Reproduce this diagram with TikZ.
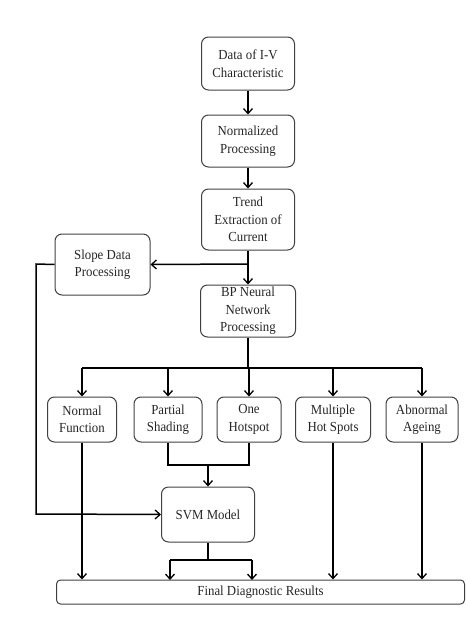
\documentclass[tikz,border=0pt]{standalone}
\usepackage{fontspec}
\setmainfont[FakeStretch=0.93]{Liberation Serif}
\usetikzlibrary{positioning,arrows.meta}
\begin{document}
\begin{tikzpicture}[x=1pt,y=-1pt,
    every path/.style={line width=1.5pt},
    stagebox/.style={draw=black!75,line width=1pt,rounded corners=7pt,align=center,
        inner sep=1pt,text=black!85,font=\fontsize{13.8}{17.5}\selectfont},
    flow/.style={-{Straight Barb[length=5pt,width=9pt,line width=1.3pt]},line width=1.5pt}]
    \useasboundingbox (0,0) rectangle (466,638);
    % main column
    \node[stagebox,minimum width=93pt,minimum height=53pt] (data) at (248,63.5) {Data of I-V\\Characteristic};
    \node[stagebox,minimum width=93pt,minimum height=52pt] (norm) at (248,141) {Normalized\\Processing};
    \node[stagebox,minimum width=93pt,minimum height=61pt] (trend) at (248,219.5) {Trend\\Extraction of\\Current};
    \node[stagebox,minimum width=95pt,minimum height=61pt] (slope) at (102.5,264.5) {Slope Data\\Processing};
    \node[stagebox,minimum width=95pt,minimum height=52pt] (bp) at (248,311) {BP Neural\\Network\\Processing};
    % fault classes
    \node[stagebox,minimum width=69pt,minimum height=45pt] (normal) at (82,419.5) {Normal\\Function};
    \node[stagebox,minimum width=68pt,minimum height=45pt] (partial) at (168,419.5) {Partial\\Shading};
    \node[stagebox,minimum width=64pt,minimum height=45pt] (hotspot) at (249,419.5) {One\\Hotspot};
    \node[stagebox,minimum width=75pt,minimum height=45pt] (multi) at (333,419.5) {Multiple\\Hot Spots};
    \node[stagebox,minimum width=72pt,minimum height=45pt] (ageing) at (422,419.5) {Abnormal\\Ageing};
    \node[stagebox,minimum width=93pt,minimum height=55pt] (svm) at (208,514.5) {SVM Model};
    \node[stagebox,minimum width=408pt,minimum height=24pt,rounded corners=4pt] (final) at (260.5,592) {Final Diagnostic Results};
    % connectors
    \coordinate (split) at (248,264);
    \coordinate (bar) at (248,368);
    \coordinate (join) at (208,465);
    \coordinate (fork) at (208,560);
    \draw[flow] (data) -- (norm);
    \draw[flow] (norm) -- (trend);
    \draw (trend.south) -- (split);
    \draw[flow] (split) -- (slope.east);
    \draw[flow] (split) -- (bp.north);
    \draw[flow] (slope.west) -- (36,264) -- (36,514) -- (svm.west);
    \draw (bp.south) -- (bar);
    \draw (normal.north |- bar) -- (ageing.north |- bar);
    \foreach \n in {normal,partial,hotspot,multi,ageing}
        \draw[flow] (\n.north |- bar) -- (\n.north);
    \draw (partial.south) -- (partial.south |- join) -- (hotspot.south |- join) -- (hotspot.south);
    \draw[flow] (join) -- (svm.north);
    \draw (svm.south) -- (fork);
    \draw (170,560) -- (252,560);
    \draw[flow] (170,560) -- (170,580);
    \draw[flow] (252,560) -- (252,580);
    \foreach \n in {normal,multi,ageing}
        \draw[flow] (\n.south) -- (\n.south |- final.north);
\end{tikzpicture}
\end{document}
